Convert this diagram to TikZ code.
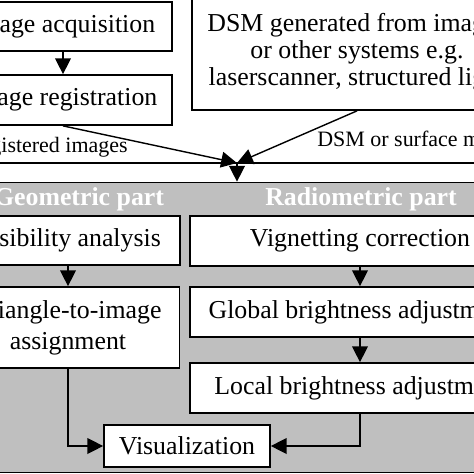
\documentclass[tikz,border=0pt]{standalone}
\usepackage{fontspec}
\setmainfont{Liberation Serif}
\usetikzlibrary{arrows.meta}
\tikzset{
  stepbox/.style={rectangle,draw=black,line width=1pt,fill=white,
    inner sep=1pt,align=center,font=\fontsize{14.7}{17.6}\selectfont},
  flowarrow/.style={line width=0.8pt,-{Triangle[length=9pt,width=9pt]}},
  flowlabel/.style={inner sep=0pt,font=\fontsize{12.5}{15}\selectfont},
  partlabel/.style={inner sep=0pt,text=white,
    font=\bfseries\fontsize{14.7}{17.6}\selectfont},
  partarea/.style={rectangle,draw=black,line width=1pt,fill=gray!50}
}

\begin{document}
\begin{tikzpicture}[x=0.02cm,y=-0.02cm]
  \useasboundingbox (0,0) rectangle (474,474);
  \clip (0,0) rectangle (474,474);

  % input side
  \node[stepbox,minimum width=4.36cm,minimum height=0.98cm] (acq) at (63,26.5) {Image acquisition};
  \node[stepbox,minimum width=4.36cm,minimum height=1cm] (reg) at (63,100) {Image registration};
  \node[stepbox,minimum width=6.6cm,minimum height=2.32cm,
    font=\fontsize{14.7}{15.2}\selectfont] (dsm) at (357,52)
    {DSM generated from images\\or other systems e.g.\\laserscanner, structured light};

  \coordinate (barL) at (-20,163);
  \coordinate (barR) at (494,163);
  \coordinate (merge) at (237,163);
  \draw[line width=1pt] (barL) -- (barR);
  \node[flowlabel,anchor=east] (reglabel) at (128,147) {Registered images};
  \node[flowlabel,anchor=west] (dsmlabel) at (317,139) {DSM or surface model};

  % processing part
  \node[partarea,minimum width=10.28cm,minimum height=5.8cm] (grayarea) at (237,327.5) {};
  \node[partlabel] (geomhead) at (79,199) {Geometric part};
  \node[partlabel] (radiohead) at (361,199) {Radiometric part};

  \node[stepbox,minimum width=4.48cm,minimum height=0.98cm] (vis) at (68,240.5) {Visibility analysis};
  \node[stepbox,minimum width=4.46cm,minimum height=1.62cm] (tri) at (68,327.5) {Triangle-to-image\\assignment};
  \node[stepbox,minimum width=6.8cm,minimum height=1cm] (vig) at (360,241) {Vignetting correction};
  \node[stepbox,minimum width=6.8cm,minimum height=1cm] (glob) at (360,312) {Global brightness adjustment};
  \node[stepbox,minimum width=6.8cm,minimum height=1cm] (loc) at (360,388) {Local brightness adjustment};
  \node[stepbox,minimum width=3.32cm,minimum height=0.84cm] (visu) at (187,446) {Visualization};

  \draw[flowarrow] (acq) -- (reg);
  \draw[flowarrow] (reg.south) -- (merge);
  \draw[flowarrow] (dsm.south) -- (merge);
  \draw[flowarrow] (merge) -- (merge |- grayarea.north);
  \draw[flowarrow] (vis) -- (tri);
  \draw[flowarrow] (vig) -- (glob);
  \draw[flowarrow] (glob) -- (loc);
  \draw[flowarrow] (tri.south) |- (visu.west);
  \draw[flowarrow] (loc.south) |- (visu.east);
\end{tikzpicture}
\end{document}
